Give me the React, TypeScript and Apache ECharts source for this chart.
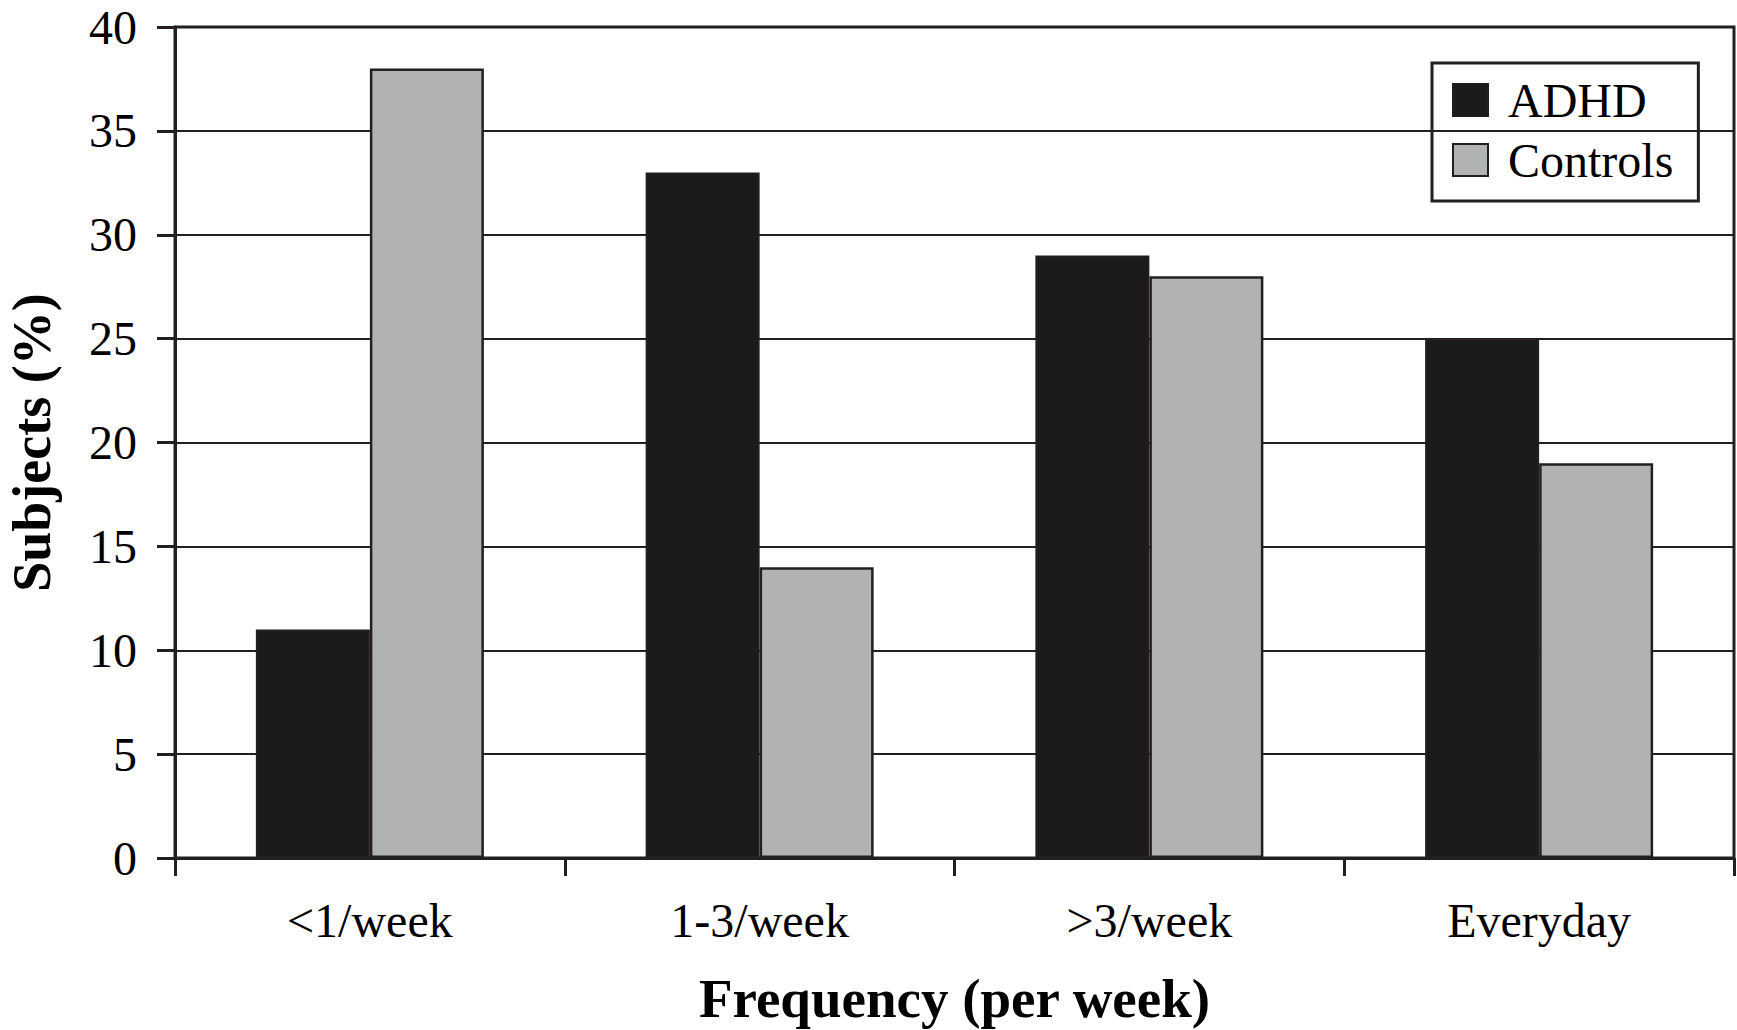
import React, { useEffect, useRef } from "react";
import * as echarts from "echarts";

const categories = ["<1/week", "1-3/week", ">3/week", "Everyday"];
const adhdValues = [11, 33, 29, 25];
const controlValues = [38, 14, 28, 19];
const seriesNames = ["ADHD", "Controls"];

const FONT = "'Liberation Serif', 'Times New Roman', Times, serif";
const INK = "#231f20";

export default function App() {
  const ref = useRef<HTMLDivElement>(null);
  useEffect(() => {
    if (!ref.current) return;
    const chart = echarts.init(ref.current, undefined, { renderer: "svg" });
    chart.setOption({
      animation: false,
      backgroundColor: "#ffffff",
      textStyle: { fontFamily: FONT, color: "#000" },
      grid: {
        left: 175,
        right: 3,
        top: 27,
        bottom: 172,
        containLabel: false,
        outerBoundsMode: "none",
        show: true,
        borderColor: INK,
        borderWidth: 3,
        backgroundColor: "transparent",
      },
      legend: {
        orient: "vertical",
        left: 1432,
        top: 63,
        padding: [13, 25, 17, 20],
        itemWidth: 35,
        itemHeight: 32,
        itemGap: 12,
        borderColor: INK,
        borderWidth: 3,
        icon: "rect",
        textStyle: { fontFamily: FONT, fontSize: 48, color: "#000", padding: [0, 0, 6, 15] },
        data: seriesNames,
      },
      xAxis: {
        type: "category",
        data: categories,
        name: "Frequency (per week)",
        nameLocation: "middle",
        nameGap: 113,
        nameTextStyle: { fontFamily: FONT, fontSize: 55, fontWeight: "bold", color: "#000" },
        axisLine: { show: true, lineStyle: { color: INK, width: 3 } },
        axisTick: { show: true, length: 18, interval: 0, lineStyle: { color: INK, width: 3 } },
        axisLabel: { fontFamily: FONT, fontSize: 48, color: "#000", margin: 38, interval: 0 },
      },
      yAxis: {
        type: "value",
        min: 0,
        max: 40,
        interval: 5,
        name: "Subjects (%)",
        nameLocation: "middle",
        nameGap: 116,
        nameTextStyle: { fontFamily: FONT, fontSize: 54, fontWeight: "bold", color: "#000" },
        axisLine: { show: true, lineStyle: { color: INK, width: 3 } },
        axisTick: { show: true, length: 18, lineStyle: { color: INK, width: 3 } },
        axisLabel: { fontFamily: FONT, fontSize: 48, color: "#000", margin: 38 },
        splitLine: { show: true, lineStyle: { color: INK, width: 2 } },
      },
      series: [
        {
          name: seriesNames[0],
          type: "bar",
          data: adhdValues,
          barWidth: 114,
          barGap: "0%",
          itemStyle: { color: "#1c1a1b", borderColor: INK, borderWidth: 2 },
        },
        {
          name: seriesNames[1],
          type: "bar",
          data: controlValues,
          barWidth: 114,
          barGap: "0%",
          itemStyle: { color: "#b1b2b4", borderColor: INK, borderWidth: 2.5 },
        },
      ],
    });
    return () => chart.dispose();
  }, []);
  return (
    <div
      ref={ref}
      style={{ position: "fixed", left: 0, top: 0, width: 1737, height: 1030, background: "#fff" }}
    />
  );
}
